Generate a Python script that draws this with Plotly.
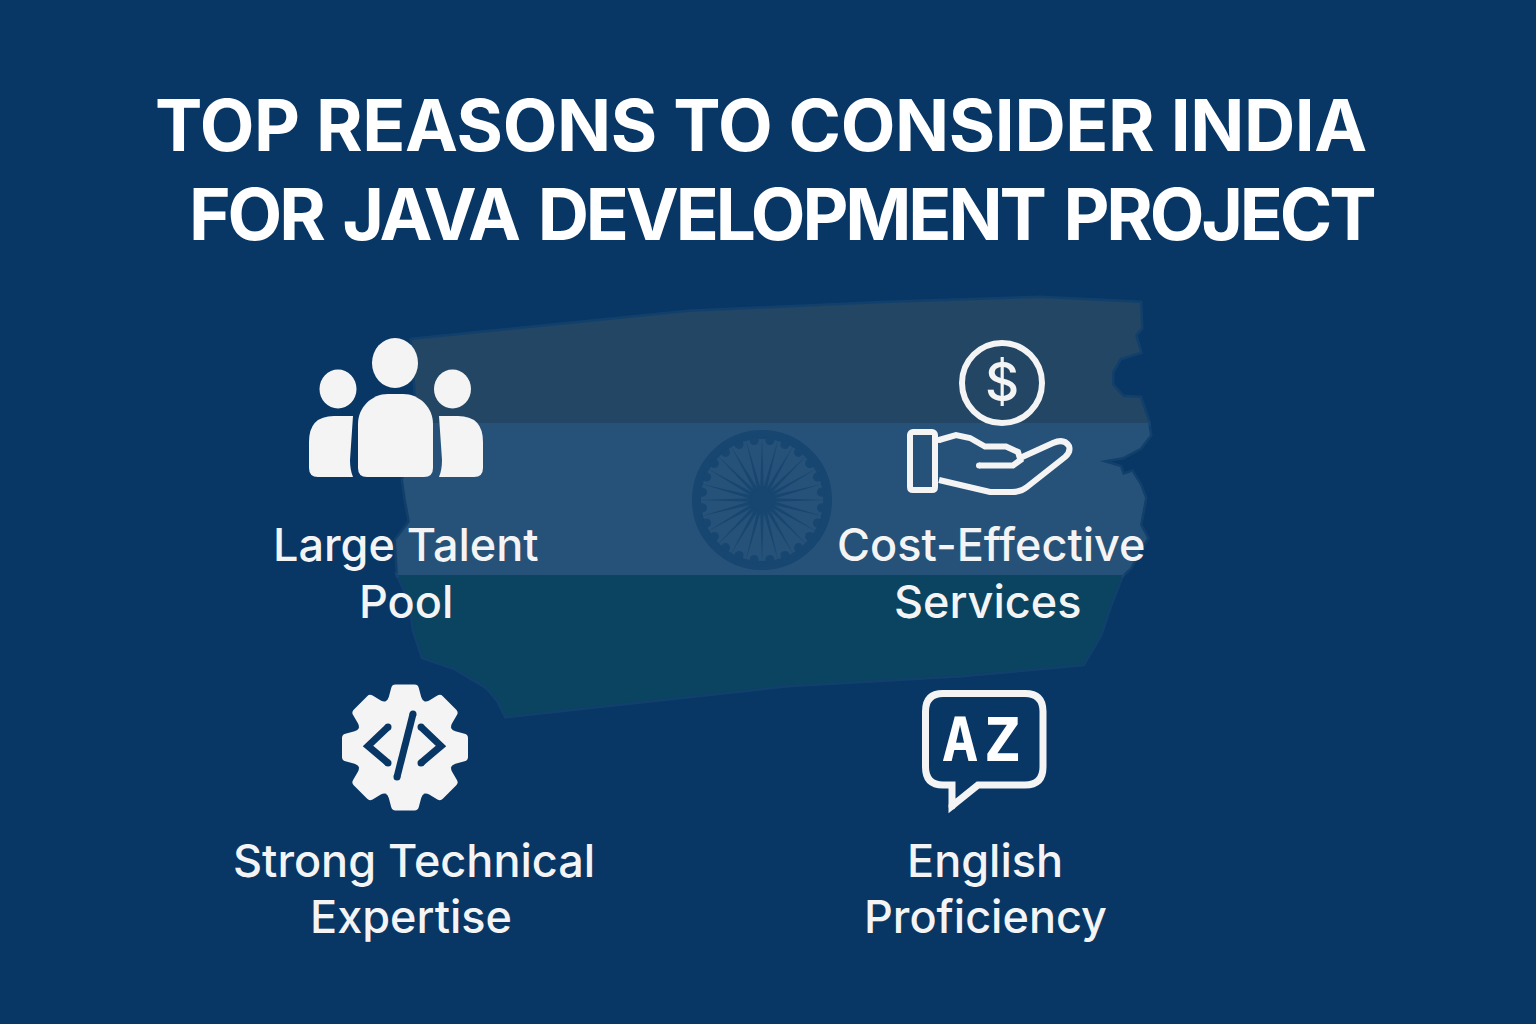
import numpy as np
import plotly.graph_objects as go

TITLE_LINES = ["TOP REASONS TO CONSIDER INDIA", "FOR JAVA DEVELOPMENT PROJECT"]
CARD_LINES = [
    ("Large Talent", "Pool"),
    ("Cost-Effective", "Services"),
    ("Strong Technical", "Expertise"),
    ("English", "Proficiency"),
]
CARD_X = [(406, 406), (991, 987), (414, 411), (985, 985)]
CARD_Y = [(544, 601), (544, 601), (860, 916), (860, 916)]

BG = "#083766"
WHITE = "#f5f4f5"
WHEEL = "#174670"

shapes = []


def fill(path, color=WHITE):
    shapes.append(dict(type="path", path=path, fillcolor=color, line=dict(width=0), layer="above"))


def stroke(path, width=6, color=WHITE):
    shapes.append(dict(type="path", path=path, line=dict(color=color, width=width), layer="above"))


def ellipse(cx, cy, rx, ry, color=WHITE, line=None, width=0):
    shapes.append(dict(
        type="circle", x0=cx - rx, x1=cx + rx, y0=cy - ry, y1=cy + ry,
        fillcolor=color, line=dict(color=line, width=width), layer="above",
    ))


def cap(points, width=6, color=WHITE):
    # plotly shapes have butt ends, so round them by hand
    path = "M" + " L".join(f"{x},{y}" for x, y in points)
    stroke(path, width, color)
    for x, y in (points[0], points[-1]):
        ellipse(x, y, width / 2, width / 2, color)


def rrect(x0, y0, x1, y1, rt, rb):
    return (
        f"M{x0},{y0 + rt} C{x0},{y0 + rt * 0.45} {x0 + rt * 0.45},{y0} {x0 + rt},{y0} L{x1 - rt},{y0} "
        f"C{x1 - rt * 0.45},{y0} {x1},{y0 + rt * 0.45} {x1},{y0 + rt} "
        f"L{x1},{y1 - rb} Q{x1},{y1} {x1 - rb},{y1} L{x0 + rb},{y1} Q{x0},{y1} {x0},{y1 - rb} Z"
    )


def round_poly(pts, r):
    # closed polygon with every corner eased by a small quadratic
    out = []
    n = len(pts)
    for i in range(n):
        p, prev, nxt = pts[i], pts[i - 1], pts[(i + 1) % n]
        a = p + (prev - p) / np.linalg.norm(prev - p) * r
        b = p + (nxt - p) / np.linalg.norm(nxt - p) * r
        out.append(("M" if i == 0 else "L") + f"{a[0]:.1f},{a[1]:.1f} Q{p[0]:.1f},{p[1]:.1f} {b[0]:.1f},{b[1]:.1f}")
    return " ".join(out) + " Z"


# flag bands behind everything
TOP_EDGE = ("M412,340 L490,332 L688,312 L887,303 L1040,298 L1140,303 L1141,328 L1135,335 L1140,352 "
            "L1120,358 L1112,372 L1112,385 L1123,397 L1140,398 L1147,418 L1148,423 L418,423 Z")
MID_EDGE = ("M418,423 L1148,423 L1150,435 L1140,448 L1123,457 L1100,461 L1120,467 L1123,475 L1132,472 "
            "L1140,485 L1145,498 L1140,525 L1147,538 L1130,568 L1122,575 L398,575 L396,540 L410,522 "
            "L406,500 L403,480 L412,450 Z")
LOW_EDGE = ("M398,575 L1122,575 L1110,605 L1100,635 L1083,664 L962,675 L788,685 L506,716 L498,700 "
            "L487,687 L455,668 L423,657 L414,630 L410,600 Z")
for path in (TOP_EDGE, MID_EDGE, LOW_EDGE):
    shapes.append(dict(type="path", path=path, fillcolor="rgba(0,0,0,0)",
                       line=dict(color="rgba(38,82,120,0.35)", width=5), layer="above"))
fill(TOP_EDGE, "#224663")
fill(MID_EDGE, "#265279")
fill(LOW_EDGE, "#0a4460")

# ashoka wheel
wx, wy = 762, 500
ellipse(wx, wy, 65.5, 65.5, "rgba(0,0,0,0)", WHEEL, 9)
ellipse(wx, wy, 13, 13, WHEEL)
for a in np.deg2rad(np.arange(0, 360, 15)):
    u = np.array([np.cos(a), np.sin(a)])
    n = np.array([-u[1], u[0]])
    c = np.array([wx, wy])
    p0 = c + u * 11 + n * 1.8
    p1 = c + u * 63
    p2 = c + u * 11 - n * 1.8
    fill(f"M{p0[0]:.1f},{p0[1]:.1f} L{p1[0]:.1f},{p1[1]:.1f} L{p2[0]:.1f},{p2[1]:.1f} Z", WHEEL)
    b = a + np.deg2rad(7.5)
    ellipse(wx + 60 * np.cos(b), wy + 60 * np.sin(b), 4.5, 4.5, WHEEL)

# people icon
ellipse(395, 363, 23, 25)
ellipse(338, 389, 18.5, 19.5)
ellipse(452.5, 389, 18.5, 19.5)
fill(rrect(358, 394, 433, 477, 30, 9))
fill("M353,416 L334,416 Q309,416 309,442 L309,468 Q309,477 318,477 L353,477 Q350,470 350,460 Z")
fill("M439,416 L458,416 Q483,416 483,442 L483,468 Q483,477 474,477 L439,477 Q442,470 442,460 Z")

# money icon
ellipse(1002, 383, 40, 40, "rgba(0,0,0,0)", WHITE, 6)
stroke(rrect(910, 432, 935, 490, 3, 3), 6)
cap([(939, 440), (956, 435), (970, 438), (985, 446.5), (1006, 446.5), (1018, 452),
     (1020.5, 460), (1013, 465.5), (979, 465.5)])
stroke("M1020,458 L1053,443 Q1064,438 1069,446 Q1071,452 1065,457 L1027,487 Q1021,492 1012,492 "
       "L990,492 L939,480", 6)

# gear icon
gx, gy = 405, 747.5
pts = []
for a in np.deg2rad(np.arange(0, 360, 45)):
    u = np.array([np.cos(a), np.sin(a)])
    n = np.array([-u[1], u[0]])
    c = np.array([gx, gy])
    pts += [c + u * 47 - n * 17, c + u * 63 - n * 13, c + u * 63 + n * 13, c + u * 47 + n * 17]
fill(round_poly(pts, 3.5))
ellipse(gx, gy, 49, 49)
cap([(388, 727), (368, 746), (388, 763)], 7, BG)
cap([(421, 727), (441, 746), (421, 763)], 7, BG)
cap([(413, 714), (397, 777)], 7, BG)

# speech bubble icon
stroke("M943,693.5 L1025,693.5 Q1043,693.5 1043,711.5 L1043,767 Q1043,785 1025,785 L978,785 "
       "L952,806 L952,785 L943,785 Q925.5,785 925.5,767 L925.5,711.5 Q925.5,693.5 943,693.5 Z", 7)
ellipse(952, 806, 3.5, 3.5)

annotations = []


def label(text, x, y, size, weight=400, family="Inter", css=None):
    if css is not None:
        # spacing goes through plotly's span styling
        text = f'<span style="{css}">{text}</span>'
    annotations.append(dict(
        text=text, x=x, y=y, xref="x", yref="y", xanchor="center", yanchor="middle", showarrow=False,
        font=dict(family=family, size=size, color=WHITE if size < 60 else "white", weight=weight),
    ))


label(TITLE_LINES[0], 761, 125, 71, 700, css="letter-spacing:-0.4px")
label(TITLE_LINES[1], 781, 214, 71, 700, css="letter-spacing:-3.1px;word-spacing:6px")
for lines, xs, ys in zip(CARD_LINES, CARD_X, CARD_Y):
    for line, x, y in zip(lines, xs, ys):
        label(line, x, y, 45, 500)
label("$", 1002, 382, 53, 500)
label("AZ", 984, 740, 60, 700, family="DejaVu Sans Mono", css="letter-spacing:6px")

fig = go.Figure()
fig.update_layout(
    width=1536,
    height=1024,
    margin=dict(l=0, r=0, t=0, b=0),
    paper_bgcolor=BG,
    plot_bgcolor=BG,
    xaxis=dict(range=[0, 1536], visible=False, fixedrange=True),
    yaxis=dict(range=[1024, 0], visible=False, fixedrange=True),
    shapes=shapes,
    annotations=annotations,
    showlegend=False,
)
fig.write_html(
    "out.html",
    config=dict(displayModeBar=False),
    post_script="document.body.style.margin='0';document.body.style.background='" + BG + "';",
)
